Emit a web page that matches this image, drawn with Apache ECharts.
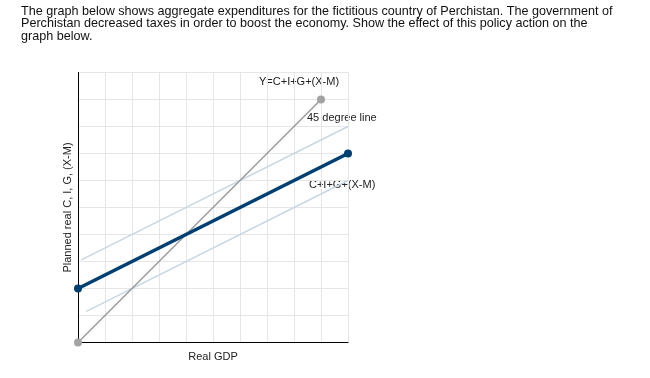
<!DOCTYPE html>
<html>
<head>
<meta charset="utf-8">
<script src="https://cdn.jsdelivr.net/npm/echarts@6/dist/echarts.min.js"></script>
<style>
  html, body { margin: 0; padding: 0; background: #fff; }
  #chart { width: 650px; height: 378px; }
</style>
</head>
<body>
<div id="chart"></div>
<script>
// axis ranges (both axes 0..10, square grid)
const axisMin = 0;
const axisMax = 10;

// 45 degree line Y = C+I+G+(X-M)
const line45 = [[0, 0], [9, 9]];
// aggregate expenditure (movable, dark blue)
const aeMain = [[0, 2], [10, 7]];
// faint reference positions (shift up / shift down)
const aeUpper = [[0.12, 3.06], [10, 8]];
const aeLower = [[0.31, 1.15], [10, 6]];

const titleText = 'The graph below shows aggregate expenditures for the fictitious country of Perchistan. The government of\n' +
  'Perchistan decreased taxes in order to boost the economy. Show the effect of this policy action on the\n' +
  'graph below.';

const chart = echarts.init(document.getElementById('chart'));

const font = 'Arial, "Liberation Sans", sans-serif';

const option = {
  animation: false,
  grid: { left: 78, top: 72.5, width: 270, height: 270 },
  xAxis: {
    type: 'value',
    min: axisMin,
    max: axisMax,
    interval: 1,
    name: 'Real GDP',
    nameLocation: 'middle',
    nameGap: 9,
    nameTextStyle: { fontFamily: font, fontSize: 11, color: '#222' },
    axisLine: { lineStyle: { color: '#000', width: 1 } },
    axisTick: { show: false },
    axisLabel: { show: false },
    splitLine: { lineStyle: { color: '#e6e6e6', width: 1 } }
  },
  yAxis: {
    type: 'value',
    min: axisMin,
    max: axisMax,
    interval: 1,
    name: 'Planned real C, I, G, (X-M)',
    nameLocation: 'middle',
    nameGap: 5,
    nameRotate: 90,
    nameTextStyle: { fontFamily: font, fontSize: 11, color: '#222' },
    axisLine: { lineStyle: { color: '#000', width: 1 } },
    axisTick: { show: false },
    axisLabel: { show: false },
    splitLine: { lineStyle: { color: '#e6e6e6', width: 1 } }
  },
  series: [
    {
      type: 'line',
      data: aeUpper,
      symbol: 'none',
      lineStyle: { color: '#c9d7e4', width: 1.5 },
      z: 2
    },
    {
      type: 'line',
      data: aeLower,
      symbol: 'none',
      lineStyle: { color: '#c9d7e4', width: 1.5 },
      z: 2
    },
    {
      type: 'line',
      data: line45,
      symbol: 'circle',
      symbolSize: 8,
      itemStyle: { color: '#a3a3a3' },
      lineStyle: { color: '#9a9a9a', width: 1.5 },
      z: 3
    },
    {
      type: 'line',
      data: aeMain,
      symbol: 'circle',
      symbolSize: 8,
      itemStyle: { color: '#003f72' },
      lineStyle: { color: '#003f72', width: 3.5 },
      z: 4
    }
  ],
  graphic: [
    {
      type: 'text',
      left: 21,
      top: 5,
      style: { text: titleText, fontFamily: font, fontSize: 12.6, lineHeight: 12.5, fill: '#111' }
    },
    {
      type: 'text',
      left: 259,
      top: 76,
      style: { text: 'Y=C+I+G+(X-M)', fontFamily: font, fontSize: 11, fill: '#222' }
    },
    {
      type: 'text',
      left: 307,
      top: 112,
      style: { text: '45 degree line', fontFamily: font, fontSize: 11, fill: '#222' }
    },
    {
      type: 'text',
      left: 309,
      top: 179,
      style: { text: 'C+I+G+(X-M)', fontFamily: font, fontSize: 11, fill: '#222' }
    }
  ]
};

chart.setOption(option);
</script>
</body>
</html>
